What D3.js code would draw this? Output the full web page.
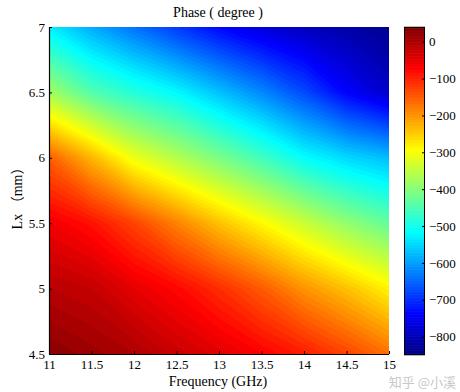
<!DOCTYPE html>
<html><head><meta charset="utf-8">
<script src="https://cdn.jsdelivr.net/npm/d3@7"></script>
<style>body{margin:0;background:#fff}svg{display:block}</style>
</head><body>
<svg id="c" width="460" height="392"></svg>
<script>
const frequency = [11, 11.5, 12, 12.5, 13, 13.5, 14, 14.5, 15];
const lx = [4.5, 5, 5.5, 6, 6.5, 7];
const phase_45 = [30, 15, 0, -25, -45, -70, -95, -130, -170];
const phase_50 = [-10, -20, -50, -75, -110, -150, -200, -240, -285];
const phase_55 = [-60, -85, -130, -185, -240, -290, -340, -390, -430];
const phase_60 = [-155, -230, -310, -360, -410, -460, -515, -550, -575];
const phase_65 = [-375, -445, -485, -520, -570, -620, -675, -740, -785];
const phase_70 = [-530, -590, -640, -690, -735, -770, -795, -815, -835];
const phaseRows = [phase_45, phase_50, phase_55, phase_60, phase_65, phase_70];
const xTicks = [11, 11.5, 12, 12.5, 13, 13.5, 14, 14.5, 15];
const yTicks = [4.5, 5, 5.5, 6, 6.5, 7];
const cTicks = [0, -100, -200, -300, -400, -500, -600, -700, -800];
const cDomain = [-850, 40];

const svg = d3.select('#c');
const L = 49, R = 389, T = 27, B = 354;
const x = d3.scaleLinear([11, 15], [L, R]);
const y = d3.scaleLinear([4.5, 7], [B, T]);

function jet(t) {
  const c = v => Math.max(0, Math.min(1, v));
  const r = c(1.5 - Math.abs(4 * t - 3)), g = c(1.5 - Math.abs(4 * t - 2)), b = c(1.5 - Math.abs(4 * t - 1));
  return d3.rgb(r * 255, g * 255, b * 255).toString();
}
const color = d3.scaleSequential(jet).domain(cDomain);

const nx = frequency.length, ny = lx.length;
const values = [];
phaseRows.forEach(row => row.forEach(v => values.push(v)));
const step = 10;
const levels = d3.range(cDomain[0], cDomain[1] + 1, step);
const contours = d3.contours().size([nx, ny]).thresholds(levels)(values);
const fStep = frequency[1] - frequency[0], lStep = lx[1] - lx[0];
const proj = d3.geoTransform({
  point(gx, gy) {
    this.stream.point(x(frequency[0] + (gx - 0.5) * fStep), y(lx[0] + (gy - 0.5) * lStep));
  }
});
const path = d3.geoPath(proj);

svg.append('clipPath').attr('id', 'clip').append('rect')
  .attr('x', L).attr('y', T).attr('width', R - L).attr('height', B - T);

svg.append('g').attr('clip-path', 'url(#clip)')
  .selectAll('path').data(contours).join('path')
  .attr('d', path)
  .attr('fill', d => color(d.value + step / 2))
  .attr('stroke', d => color(d.value + step / 2))
  .attr('stroke-width', 0.6);

const font = '"Liberation Serif", "Times New Roman", serif';

// axes
const xAxis = d3.axisBottom(x).tickValues(xTicks).tickSize(-3).tickPadding(6).tickFormat(d3.format('~g'));
const gx = svg.append('g').attr('transform', `translate(0,${B})`).call(xAxis);
const yAxis = d3.axisLeft(y).tickValues(yTicks).tickSize(-3).tickPadding(4).tickFormat(d3.format('~g'));
const gy = svg.append('g').attr('transform', `translate(${L},0)`).call(yAxis);
[gx, gy].forEach(g => {
  g.selectAll('text').attr('font-family', font).attr('font-size', 13).attr('fill', '#000');
  g.selectAll('line').attr('stroke', '#000');
  g.select('.domain').attr('stroke', '#000').attr('stroke-width', 1.2);
});
gy.selectAll('.tick text').attr('dy', '0.32em');
gy.selectAll('.domain').attr('d', `M0.5,${B}V${T}`);
gx.selectAll('.domain').attr('d', `M${L},0.5H${R}`);

// colorbar
const cbX = 404, cbW = 21;
const cy = d3.scaleLinear(cDomain, [355, 27]);
const cb = svg.append('g');
const cbLevels = d3.range(cDomain[0], cDomain[1], 2);
cb.selectAll('rect').data(cbLevels).join('rect')
  .attr('x', cbX).attr('width', cbW)
  .attr('y', d => cy(d + 2) - 0.3).attr('height', d => cy(d) - cy(d + 2) + 0.6)
  .attr('fill', d => color(d + 1));
cb.append('rect').attr('x', cbX + 0.5).attr('y', 27.5).attr('width', cbW - 1).attr('height', 327)
  .attr('fill', 'none').attr('stroke', '#000').attr('stroke-width', 1);
const cAxis = d3.axisRight(cy).tickValues(cTicks).tickSize(-3).tickPadding(4).tickFormat(d3.format('d'));
const gc = svg.append('g').attr('transform', `translate(${cbX + cbW},0)`).call(cAxis);
gc.select('.domain').remove();
gc.selectAll('line').attr('stroke', '#000');
gc.selectAll('text').attr('font-family', font).attr('font-size', 13).attr('fill', '#000');

// labels
svg.append('text').attr('x', 218).attr('y', 17).attr('text-anchor', 'middle')
  .attr('font-family', font).attr('font-size', 14).text('Phase ( degree )');
svg.append('text').attr('x', 218).attr('y', 386).attr('text-anchor', 'middle')
  .attr('font-family', font).attr('font-size', 14).text('Frequency (GHz)');
svg.append('text').attr('transform', 'translate(22,195) rotate(-90)').attr('text-anchor', 'middle')
  .attr('font-family', font + ', "Noto Sans CJK SC"').attr('font-size', 14).text('Lx （mm）');
svg.append('text').attr('x', 456).attr('y', 387).attr('text-anchor', 'end')
  .attr('font-family', '"Noto Sans CJK SC", sans-serif').attr('font-size', 13)
  .attr('fill', '#c8c8c8').text('知乎 @小溪');
</script>
</body></html>
